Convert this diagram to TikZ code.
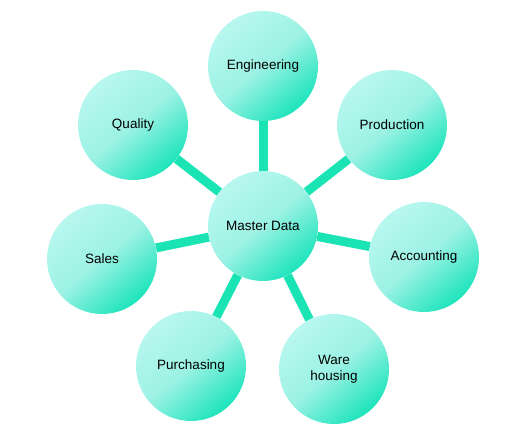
\documentclass[tikz,border=0pt]{standalone}
\usepackage{fontspec}
\setmainfont{Liberation Sans}
\usetikzlibrary{backgrounds}

\definecolor{bubblelight}{HTML}{B8F7EF}
\definecolor{bubblemid}{HTML}{9CF2E4}
\definecolor{bubbledark}{HTML}{1DE4BC}
\definecolor{spoke}{HTML}{1AE3B4}

\tikzset{
  dept/.style={circle, minimum size=110pt, inner sep=0pt, align=center,
    top color=bubblelight, bottom color=bubbledark, middle color=bubblemid,
    shading angle=40, font=\fontsize{13.5}{16}\selectfont},
  spokeline/.style={line width=9pt, spoke}
}

\begin{document}
\begin{tikzpicture}[x=1pt,y=1pt]

\useasboundingbox (0,0) rectangle (514,429);

% Hub
\node[dept] (master) at (263,203) {Master Data};

% Departments
\node[dept] (eng)   at (263,363) {Engineering};
\node[dept] (prod)  at (392,304) {Production};
\node[dept] (acc)   at (424,172) {Accounting};
\node[dept] (ware)  at (334,60)  {Ware\\housing};
\node[dept] (purch) at (191,63)  {Purchasing};
\node[dept] (sales) at (102,170) {Sales};
\node[dept] (qual)  at (133,304) {Quality};

% Spokes
\begin{scope}[on background layer]
\foreach \d in {eng,prod,acc,ware,purch,sales,qual}
  \draw[spokeline] (master) -- (\d);
\end{scope}

\end{tikzpicture}
\end{document}
